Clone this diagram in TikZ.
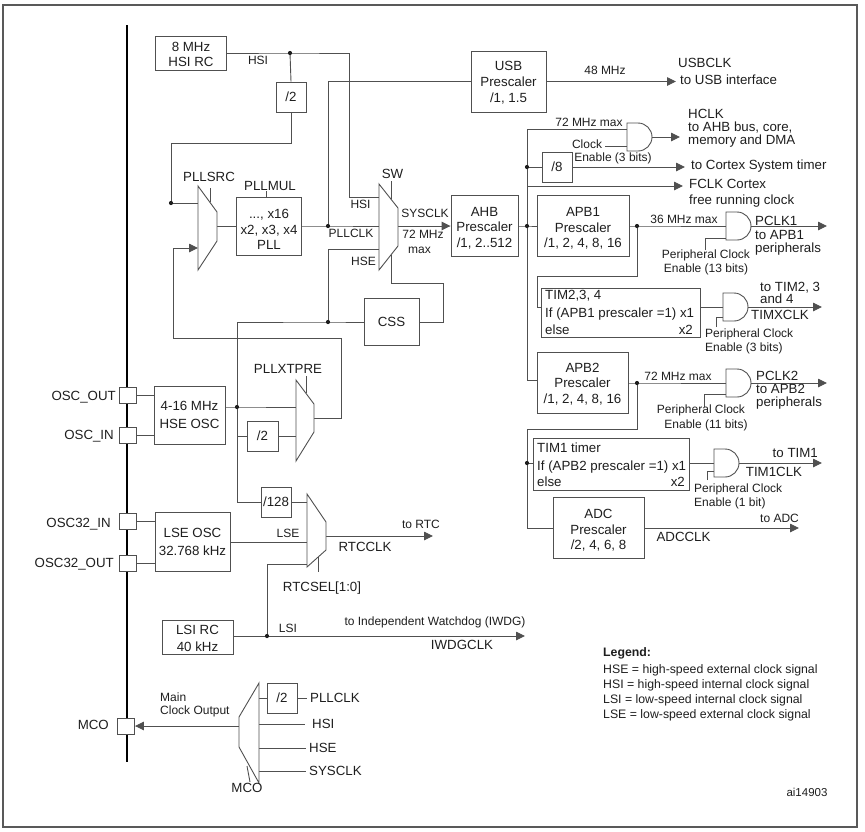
\documentclass[tikz,border=0pt]{standalone}
\usepackage{fontspec}
\setmainfont{Liberation Sans}
\usetikzlibrary{arrows.meta}
\definecolor{wirec}{HTML}{505050}
\definecolor{txtc}{HTML}{1E1E1E}
\newcommand\fsz[2]{\fontsize{#1}{#2}\selectfont}
\newcommand\andgate[3]{%
  \draw[gate] (#2,#3) -- ({#2+11},#3) .. controls ({#2+18.7},#3) and ({#2+25},{#3+6.3}) .. ({#2+25},{#3+14})
    .. controls ({#2+25},{#3+21.7}) and ({#2+18.7},{#3+28}) .. ({#2+11},{#3+28}) -- (#2,{#3+28}) -- cycle;
  \coordinate (#1-out) at ({#2+25},{#3+14});
}
\tikzset{
  wire/.style={draw=wirec, line width=0.9pt},
  arr/.style={wire, -{Triangle[length=9pt,width=8.5pt]}},
  box/.style={draw=wirec, line width=0.9pt, inner sep=0, fill=white},
  gate/.style={draw=wirec, line width=0.9pt, fill=white},
  mux/.style={draw=wirec, line width=0.9pt, fill=white, line join=miter},
  pin/.style={draw=wirec, line width=0.9pt, fill=white, inner sep=0, minimum width=17pt, minimum height=16pt},
  big/.style={inner sep=0, text=txtc, font=\fsz{13.3}{15.5}},
  sml/.style={inner sep=0, text=txtc, font=\fsz{12}{14}},
  leg/.style={inner sep=0, text=txtc, font=\fsz{12.3}{15}, anchor=base west},
}
\begin{document}
\begin{tikzpicture}[x=1pt, y=-1pt]
\useasboundingbox (0,0) rectangle (865,831);
% frame
\draw[draw=black!65, line width=1.6pt] (3,5) rectangle (857,827);
% bus
\draw[line width=2.8pt, black] (127,25) -- (127,762);
% pins
\node[pin] (poscout) at (127.5,395) {};
\node[pin] (poscin) at (127.5,435) {};
\node[pin] (posc32in) at (127.5,521.5) {};
\node[pin] (posc32out) at (127.5,563.5) {};
\node[pin] (pmco) at (126,726) {};
% boxes
\node[box, minimum width=71pt, minimum height=34pt] (hsirc) at (190.5,53) {};
\node[box, minimum width=30pt, minimum height=30pt] (div2a) at (291,97) {};
\node[box, minimum width=65pt, minimum height=58pt] (pll) at (268.5,226) {};
\node[box, minimum width=75pt, minimum height=61pt] (usb) at (508.5,81.5) {};
\node[box, minimum width=67pt, minimum height=61pt] (ahb) at (484.5,226) {};
\node[box, minimum width=55pt, minimum height=47pt] (css) at (391.5,322) {};
\node[box, minimum width=71pt, minimum height=58pt] (hse) at (189.5,415) {};
\node[box, minimum width=31pt, minimum height=30pt] (div2b) at (262.5,436) {};
\node[box, minimum width=30pt, minimum height=30pt] (div128) at (276,502) {};
\node[box, minimum width=75pt, minimum height=59pt] (lse) at (192.5,542) {};
\node[box, minimum width=71pt, minimum height=34pt] (lsi) at (197.5,637) {};
\node[box, minimum width=30pt, minimum height=30pt] (div8) at (557,167) {};
\node[box, minimum width=92pt, minimum height=61pt] (apb1) at (583,226) {};
\node[box, minimum width=159pt, minimum height=49pt] (tim2) at (620.5,312.5) {};
\node[box, minimum width=91pt, minimum height=61pt] (apb2) at (582.5,382.5) {};
\node[box, minimum width=156pt, minimum height=52pt] (tim1) at (611,464) {};
\node[box, minimum width=91pt, minimum height=61pt] (adc) at (598.5,528) {};
\node[box, minimum width=30pt, minimum height=30pt] (div2c) at (282,698) {};
% junction coordinates
\coordinate (jhsi) at (290,53);
\coordinate (jsrc) at (171,203);
\coordinate (jpll) at (328,226);
\coordinate (jhse2) at (328,322);
\coordinate (jhse) at (237,407);
\coordinate (jahb) at (527,226);
\coordinate (j8) at (527,167);
\coordinate (japb1) at (637,226);
\coordinate (japb2) at (637,383);
\coordinate (jtim1) at (527,463);
\coordinate (jlsi) at (267,636);
\coordinate (xtpreout) at (314,418);
\coordinate (pllsrcout) at (217,226);
\coordinate (swout) at (398,226);
\coordinate (rtcout) at (326,536);
\coordinate (mcoout) at (239,726);
% wires: HSI and PLL
\draw[wire] (hsirc.east) -- (jhsi) -- (349,53) -- (349,197) -- (379,197);
\draw[wire] (jhsi) -- (div2a.north);
\draw[wire] (div2a.south) -- (291,143) -- (171,143) -- (jsrc) -- (198,203);
\draw[arr] (xtpreout) -- (341,418) -- (341,338) -- (173,338) -- (173,248) -- (198,248);
\draw[wire] (pllsrcout) -- (pll.west);
\draw[wire] (pll.east) -- (jpll) -- (379,226);
\draw[wire] (jpll) -- (328,81.5) -- (usb.west);
\draw[arr] (usb.east) -- (676,81.5);
\draw[arr] (swout) -- (ahb.west);
% HSE
\draw[wire] (379,249) -- (328,249) -- (jhse2);
\draw[wire] (hse.east |- jhse) -- (jhse) -- (296,407);
\draw[wire] (jhse) -- (237,322) -- (jhse2) -- (css.west);
\draw[wire] (jhse) -- (237,502) -- (div128.west);
\draw[wire] (237,436) -- (div2b.west);
\draw[wire] (div2b.east) -- (296,436);
\draw[wire] (css.east) -- (443,322) -- (443,283) -- (391,283) -- (391,255);
% oscillator pins
\draw[wire] (poscout.east) -- (hse.west |- poscout);
\draw[wire] (poscin.east) -- (hse.west |- poscin);
\draw[wire] (posc32in.east) -- (lse.west |- posc32in);
\draw[wire] (posc32out.east) -- (lse.west |- posc32out);
% RTC
\draw[wire] (lse.east) -- (307,542);
\draw[wire] (div128.east) -- (307,502);
\draw[arr] (rtcout) -- (433,536);
\draw[wire] (lsi.east |- jlsi) -- (jlsi);
\draw[arr] (jlsi) -- (525,636);
\draw[wire] (jlsi) -- (267,564) -- (307,564);
% AHB tree
\draw[wire] (ahb.east) -- (jahb) -- (apb1.west);
\draw[wire] (627,129) -- (527,129) -- (527,380) -- (apb2.west |- 0,380);
\draw[wire] (j8) -- (div8.west);
\draw[arr] (div8.east) -- (685,167);
\draw[arr] (527,186) -- (683,186);
\andgate{g0}{627}{123}
\draw[arr] (g0-out) -- (680,137);
\draw[wire] (605,146) -- (627,146);
% APB1
\draw[wire] (apb1.east) -- (japb1) -- (726,226);
\andgate{g1}{726}{212}
\draw[arr] (g1-out) -- (827,226);
\draw[wire] (705,250) -- (705,238) -- (726,238);
\draw[wire] (japb1) -- (637,276) -- (537,276) -- (537,307) -- (tim2.west |- 0,307);
\draw[wire] (tim2.east |- 0,307) -- (723,307);
\andgate{g2}{723}{293}
\draw[arr] (g2-out) -- (822,307);
\draw[wire] (716,327) -- (716,317) -- (723,317);
% APB2
\draw[wire] (apb2.east |- japb2) -- (japb2) -- (726,383);
\andgate{g3}{726}{369}
\draw[arr] (g3-out) -- (827,383);
\draw[wire] (704,407) -- (704,394) -- (726,394);
\draw[wire] (japb2) -- (637,429) -- (527,429) -- (527,528) -- (adc.west);
\draw[wire] (jtim1) -- (tim1.west |- jtim1);
\draw[wire] (tim1.east |- 0,463) -- (714,463);
\andgate{g4}{714}{449}
\draw[arr] (g4-out) -- (822,463);
\draw[wire] (707,480) -- (707,471) -- (714,471);
\draw[arr] (adc.east) -- (799,528);
% MCO
\draw[arr] (mcoout) -- (pmco.east);
\draw[wire] (259,698) -- (div2c.west);
\draw[wire] (div2c.east) -- (307,698);
\draw[wire] (259,724) -- (305,724);
\draw[wire] (259,748) -- (306,748);
\draw[wire] (259,771) -- (306,771);
% multiplexers
\draw[mux] (198,186) -- (217,212) -- (217,241) -- (198,270) -- cycle;
\draw[mux] (379,184) -- (398,208) -- (398,246) -- (379,270) -- cycle;
\draw[mux] (296,380) -- (314,404) -- (314,432) -- (296,461) -- cycle;
\draw[mux] (307,494) -- (326,522) -- (326,550) -- (307,567) -- cycle;
\draw[mux] (259,683) -- (239,717) -- (239,747) -- (259,783) -- cycle;
% select ticks
\draw[wire] (210,188) -- (210,202);
\draw[wire] (266,191) -- (266,197);
\draw[wire] (391,181) -- (391,199);
\draw[wire] (306,376) -- (306,393);
\draw[wire] (318,557) -- (318,572);
\draw[wire] (247,766) -- (250,782);
% dots
\foreach \p in {jhsi,jsrc,jpll,jhse2,jhse,jahb,j8,japb1,japb2,jtim1,jlsi}
  \fill[txtc] (\p) circle[radius=2.1pt];
% box texts
\node[big, align=center, anchor=north, font=\fsz{13.3}{15}] (thsi) at (191,42.2) {8 MHz\\HSI RC};
\node[big, anchor=base] (tdiv2a) at (291,101.8) {/2};
\node[big, align=center, anchor=north] (tpll) at (269,209.2) {..., x16\\x2, x3, x4\\PLL};
\node[big, align=center, anchor=north, font=\fsz{13.3}{16}] (tusb) at (508.5,61.2) {USB\\Prescaler\\/1, 1.5};
\node[big, align=center, anchor=north] (tahb) at (484.5,207) {AHB\\Prescaler\\/1, 2..512};
\node[big, align=center, anchor=north] (tapb1) at (583,207.2) {APB1\\Prescaler\\/1, 2, 4, 8, 16};
\node[big, align=center, anchor=north] (tapb2) at (582.5,363) {APB2\\Prescaler\\/1, 2, 4, 8, 16};
\node[big, align=center, anchor=north] (tadc) at (598.5,509.2) {ADC\\Prescaler\\/2, 4, 6, 8};
\node[big, anchor=base] (tcss) at (391.5,326.8) {CSS};
\node[big, align=center, anchor=north, font=\fsz{13.3}{18.6}] (thse) at (189.5,400.9) {4-16 MHz\\HSE OSC};
\node[big, anchor=base] (tdiv2b) at (262.5,440.8) {/2};
\node[big, anchor=base] (tdiv128) at (276,506.8) {/128};
\node[big, align=center, anchor=north, font=\fsz{13.3}{17.7}] (tlse) at (192.5,528.5) {LSE OSC\\32.768 kHz};
\node[big, align=center, anchor=north, font=\fsz{13.3}{16.5}] (tlsi) at (197.5,625.2) {LSI RC\\40 kHz};
\node[big, anchor=base] (tdiv8) at (557,171.8) {/8};
\node[big, anchor=base] (tdiv2c) at (282,702.8) {/2};
\node[big, anchor=base west] (t2a) at (545,299.8) {TIM2,3, 4};
\node[big, anchor=base west] (t2b) at (545,317.8) {If (APB1 prescaler =1) x1};
\node[big, anchor=base west] (t2c) at (545,334.8) {else};
\node[big, anchor=base east] (t2d) at (693,334.8) {x2};
\node[big, anchor=base west] (t1a) at (537,452.8) {TIM1 timer};
\node[big, anchor=base west] (t1b) at (537,470.8) {If (APB2 prescaler =1) x1};
\node[big, anchor=base west] (t1c) at (537,486.8) {else};
\node[big, anchor=base east] (t1d) at (685,486.8) {x2};
% small labels
\node[sml, anchor=base] (l1) at (258,64.3) {HSI};
\node[sml, anchor=base] (l2) at (360.5,208.3) {HSI};
\node[sml, anchor=base] (l3) at (351,237.3) {PLLCLK};
\node[sml, anchor=base] (l4) at (363.5,265) {HSE};
\node[sml, anchor=base] (l5) at (425,217) {SYSCLK};
\node[sml, anchor=base] (l6) at (423,238.6) {72 MHz};
\node[sml, anchor=base] (l7) at (419.5,253.3) {max};
\node[sml, anchor=base] (l8) at (605,74.3) {48 MHz};
\node[sml, anchor=base] (l9) at (589,126.3) {72 MHz max};
\node[sml, anchor=base] (l10) at (587,148.3) {Clock};
\node[sml, anchor=base] (l11) at (613,161.3) {Enable (3 bits)};
\node[sml, anchor=base] (l12) at (684,223.3) {36 MHz max};
\node[sml, anchor=base] (l13) at (706,258.3) {Peripheral Clock};
\node[sml, anchor=base] (l14) at (706,272.3) {Enable (13 bits)};
\node[sml, anchor=base west] (l15) at (705,337.3) {Peripheral Clock};
\node[sml, anchor=base west] (l16) at (705,351.3) {Enable (3 bits)};
\node[sml, anchor=base] (l17) at (678,380.3) {72 MHz max};
\node[sml, anchor=base] (l18) at (701,413.3) {Peripheral Clock};
\node[sml, anchor=base] (l19) at (706,428.3) {Enable (11 bits)};
\node[sml, anchor=base west] (l20) at (694,492.3) {Peripheral Clock};
\node[sml, anchor=base west] (l21) at (694,506.3) {Enable (1 bit)};
\node[sml, anchor=base] (l22) at (779.5,522.3) {to ADC};
\node[sml, anchor=base] (l23) at (288,537.3) {LSE};
\node[sml, anchor=base] (l24) at (421,528.3) {to RTC};
\node[sml, anchor=base] (l25) at (288,632.3) {LSI};
\node[sml, anchor=base] (l26) at (435,625.3) {to Independent Watchdog (IWDG)};
\node[sml, anchor=base west] (l27) at (160,701.3) {Main};
\node[sml, anchor=base west] (l28) at (160,714.3) {Clock Output};
\node[sml, anchor=base, font=\fsz{11.5}{14}] (l29) at (807,796) {ai14903};
% big labels
\node[big, anchor=base] (b1) at (209,181.8) {PLLSRC};
\node[big, anchor=base] (b2) at (270,190.8) {PLLMUL};
\node[big, anchor=base] (b3) at (392.5,178.1) {SW};
\node[big, anchor=base] (b4) at (288,373.8) {PLLXTPRE};
\node[big, anchor=base] (b5) at (365,551.8) {RTCCLK};
\node[big, anchor=base] (b6) at (322,591.8) {RTCSEL[1:0]};
\node[big, anchor=base] (b7) at (462,649.8) {IWDGCLK};
\node[big, anchor=base west] (b8) at (678,67.8) {USBCLK};
\node[big, anchor=base west] (b9) at (680,84.8) {to USB interface};
\node[big, anchor=base west] (b10) at (688,118.8) {HCLK};
\node[big, anchor=base west] (b11) at (688,131.8) {to AHB bus, core,};
\node[big, anchor=base west] (b12) at (688,144.8) {memory and DMA};
\node[big, anchor=base west] (b13) at (691,169.8) {to Cortex System timer};
\node[big, anchor=base west] (b14) at (689,188.8) {FCLK Cortex};
\node[big, anchor=base west] (b15) at (689,204.8) {free running clock};
\node[big, anchor=base west] (b16) at (755,225.8) {PCLK1};
\node[big, anchor=base west] (b17) at (755,239.5) {to APB1};
\node[big, anchor=base west] (b18) at (755,252.5) {peripherals};
\node[big, anchor=base west] (b19) at (760,291.8) {to TIM2, 3};
\node[big, anchor=base west] (b20) at (760,303.8) {and 4};
\node[big, anchor=base west] (b21) at (751,319.8) {TIMXCLK};
\node[big, anchor=base west] (b22) at (756,380.8) {PCLK2};
\node[big, anchor=base west] (b23) at (756,393.8) {to APB2};
\node[big, anchor=base west] (b24) at (756,406.8) {peripherals};
\node[big, anchor=base east] (b25) at (818,457.8) {to TIM1};
\node[big, anchor=base] (b26) at (774,476.8) {TIM1CLK};
\node[big, anchor=base] (b27) at (683.5,541.8) {ADCCLK};
\node[big, anchor=base east] (b28) at (116,400.5) {OSC\_OUT};
\node[big, anchor=base east] (b29) at (114,439.8) {OSC\_IN};
\node[big, anchor=base east] (b30) at (111,527) {OSC32\_IN};
\node[big, anchor=base east] (b31) at (114,567.5) {OSC32\_OUT};
\node[big, anchor=base east] (b32) at (109,729) {MCO};
\node[big, anchor=base west] (b33) at (310,702.8) {PLLCLK};
\node[big, anchor=base west] (b34) at (312,728.8) {HSI};
\node[big, anchor=base west] (b35) at (309,752.8) {HSE};
\node[big, anchor=base west] (b36) at (309,775.8) {SYSCLK};
\node[big, anchor=base] (b37) at (247,792.8) {MCO};
% legend
\node[leg] (lg0) at (603,656.4) {\bfseries Legend:};
\node[leg] (lg1) at (603,673.4) {HSE = high-speed external clock signal};
\node[leg] (lg2) at (603,688.4) {HSI = high-speed internal clock signal};
\node[leg] (lg3) at (603,703.4) {LSI = low-speed internal clock signal};
\node[leg] (lg4) at (603,718.4) {LSE = low-speed external clock signal};
\end{tikzpicture}
\end{document}
